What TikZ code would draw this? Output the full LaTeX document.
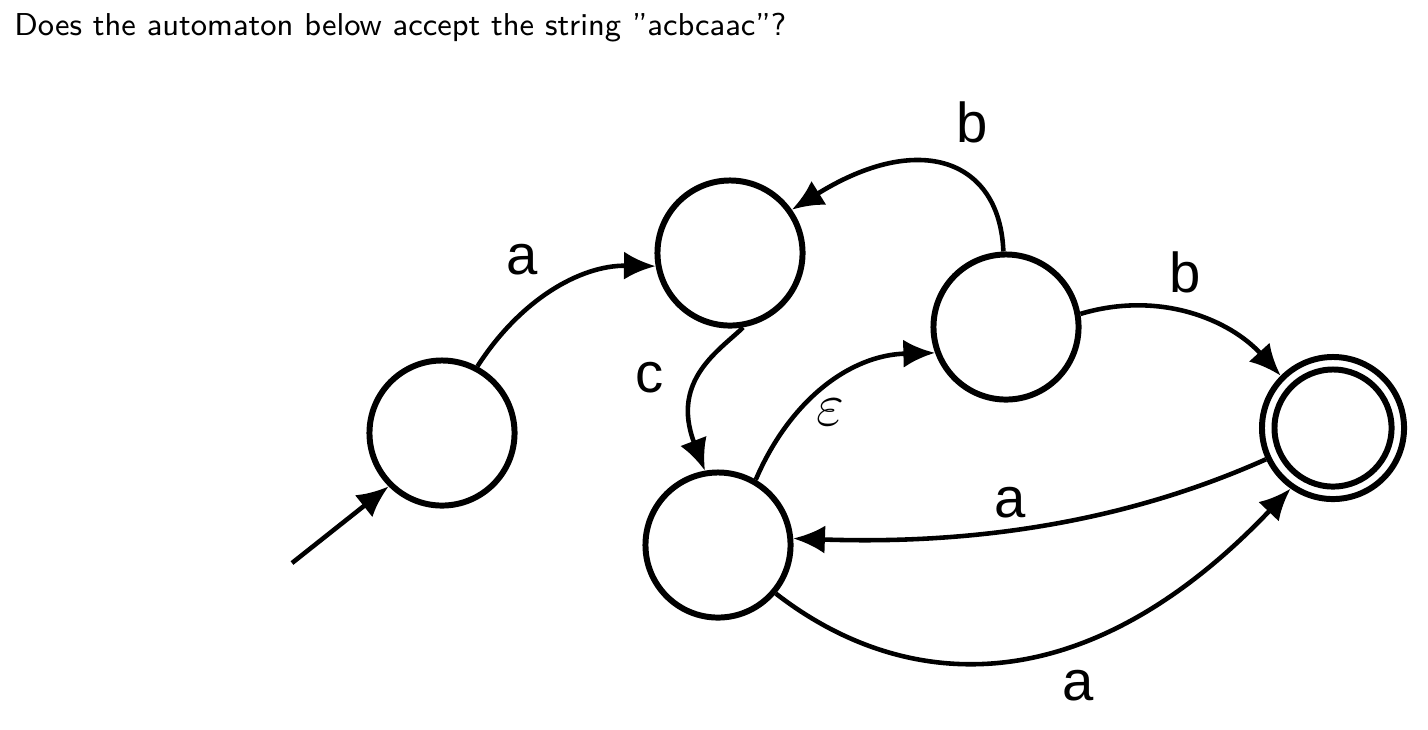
\documentclass[tikz,border=0pt]{standalone}
\usepackage{fontspec}
\newfontfamily\lab{Liberation Sans}
\usetikzlibrary{arrows.meta}
\begin{document}
\begin{tikzpicture}[x=0.01cm,y=-0.01cm,
  st/.style={circle,draw,line width=1.7pt,minimum size=1.45cm,inner sep=0pt},
  acc/.style={st,double,double distance=1.2pt},
  ed/.style={line width=1.3pt,-{Latex[length=9pt,width=8pt]}},
  lb/.style={font=\lab\fontsize{16}{16}\selectfont}]
\useasboundingbox (0,0) rectangle (1428,729);
\node[anchor=west,font=\sffamily\fontsize{9}{10}\selectfont] (q) at (2,28) {Does the automaton below accept the string "acbcaac"?};
\node[st] (s0) at (442,433) {};
\node[st] (s1) at (730,253) {};
\node[st] (s2) at (1006,327) {};
\node[st] (s3) at (718,545) {};
\node[st,minimum size=1.42cm] (s4) at (1333,428) {};
\node[circle,draw,line width=1.7pt,minimum size=1.17cm] (s4i) at (1333,428) {};
\coordinate (init) at (292,563);
\draw[ed] (init) -- (s0.225);
\draw[ed] (s0.62) .. controls (520,300) and (580,265) .. (s1.190);
\draw[ed] (s1.280) .. controls (720,350) and (670,380) .. (s3.100);
\draw[ed] (s3.60) .. controls (790,400) and (850,355) .. (s2.200);
\draw[ed] (s2.92) .. controls (1000,160) and (920,130) .. (s1.35);
\draw[ed] (s2.10) .. controls (1160,290) and (1230,320) .. (s4.135);
\draw[ed] (s4.205) .. controls (1130,520) and (980,545) .. (s3.5);
\draw[ed] (s3.-40) .. controls (900,690) and (1080,710) .. (s4.235);
\node[lb] (la1) at (522,260) {a};
\node[lb] (lc) at (650,378) {c};
\node[font=\fontsize{16}{16}\selectfont] (le) at (830,412) {$\varepsilon$};
\node[lb] (lb1) at (972,122) {b};
\node[lb] (lb2) at (1185,272) {b};
\node[lb] (la2) at (1010,503) {a};
\node[lb] (la3) at (1078,686) {a};
\end{tikzpicture}
\end{document}
